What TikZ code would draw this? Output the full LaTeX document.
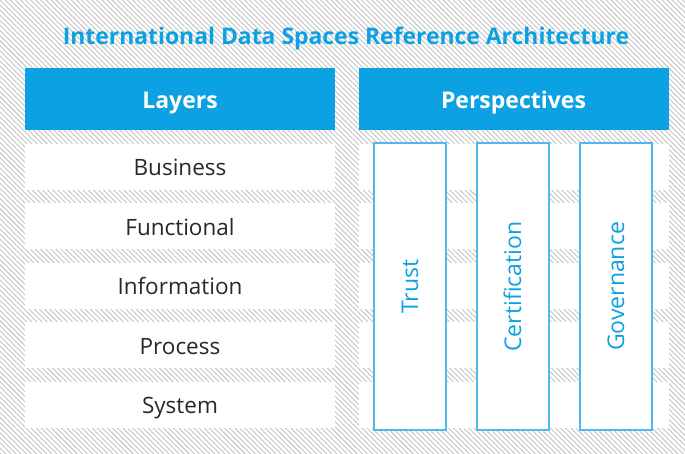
\documentclass[tikz,border=0pt]{standalone}
\usepackage{fontspec}
\setmainfont{Open Sans}
\usetikzlibrary{patterns.meta}
\definecolor{idsblue}{RGB}{12,161,226}
\definecolor{idsline}{RGB}{80,184,236}
\definecolor{idstext}{RGB}{40,40,40}
\definecolor{hatchgray}{RGB}{195,195,195}

\begin{document}
\begin{tikzpicture}[x=1pt, y=-1pt,
    header/.style={fill=idsblue, text=white, font=\fontsize{23}{26}\selectfont\bfseries,
        minimum width=310pt, minimum height=62pt, inner sep=0pt, text height=18.5pt, text depth=0pt},
    layerrow/.style={fill=white, text=idstext, font=\fontsize{22.5}{26}\selectfont,
        minimum width=310pt, minimum height=46pt, inner sep=0pt, text height=18pt, text depth=0pt},
    pillar/.style={draw=idsline, line width=1.4pt, fill=white, text=idsblue,
        font=\fontsize{23}{26}\selectfont, rotate=90, minimum width=287pt, minimum height=72pt,
        inner sep=0pt, text height=16.4pt, text depth=0pt}]
    \useasboundingbox (0,0) rectangle (685,453);

    % Hatched background
    \fill[white] (0,0) rectangle (685,453);
    \fill[pattern={Lines[angle=-45, distance=3.6pt, line width=0.9pt]}, pattern color=hatchgray]
        (0,0) rectangle (685,453);

    % Title
    \node[anchor=base, text=idsblue, font=\fontsize{22.9}{26}\selectfont\bfseries] (title) at (346,44.5)
        {International Data Spaces Reference Architecture};

    % Headers
    \node[header] (layers) at (180,99) {Layers};
    \node[header] (perspectives) at (513.5,99) {Perspectives};

    % Layer rows
    \foreach \name [count=\i] in {Business,Functional,Information,Process,System} {
        \node[layerrow] (layer-\i) at (180,166.5+59.6*\i-59.6) {\name};
        \node[layerrow] (prow-\i) at (513.5,166.5+59.6*\i-59.6) {};
    }

    % Perspective pillars
    \node[pillar] (trust) at (410,286.5) {Trust};
    \node[pillar] (certification) at (513,286.5) {Certification};
    \node[pillar] (governance) at (616,286.5) {Governance};

\end{tikzpicture}
\end{document}
